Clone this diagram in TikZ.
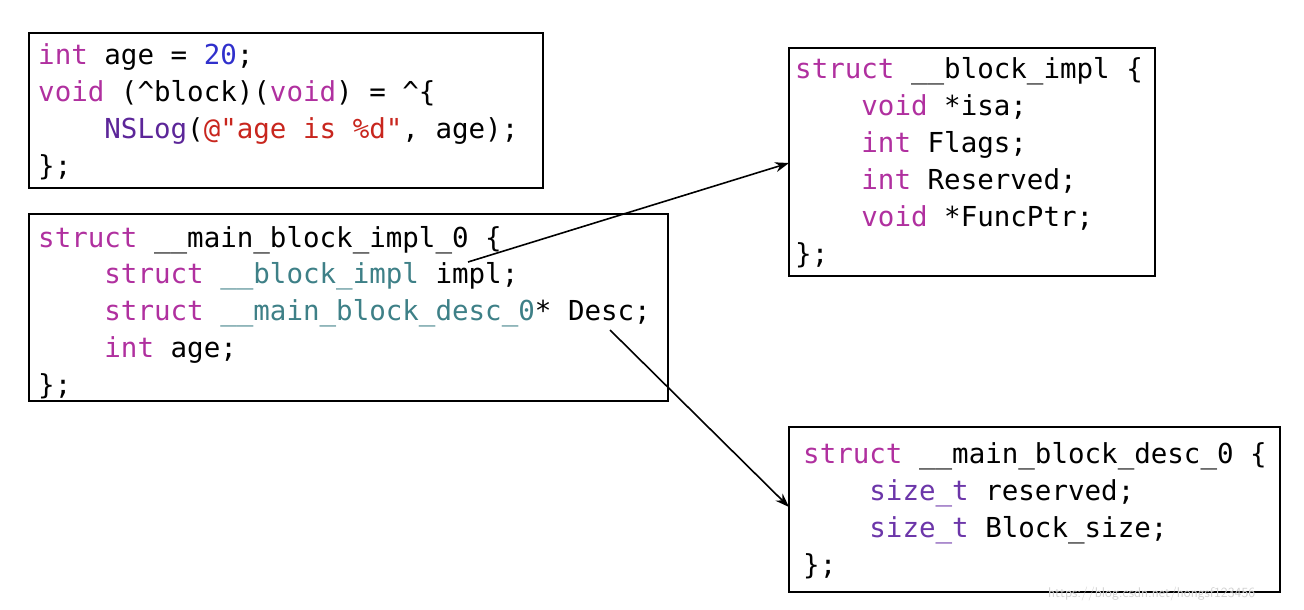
\documentclass[tikz,border=0pt]{standalone}
\usepackage{fontspec}
\setmonofont{DejaVu Sans Mono}
\usetikzlibrary{arrows.meta}
\definecolor{kw}{HTML}{B0309F}
\definecolor{ty}{HTML}{3E8087}
\definecolor{num}{HTML}{3030CC}
\definecolor{fn}{HTML}{5C2699}
\definecolor{str}{HTML}{C8261E}
\definecolor{st}{HTML}{6C36A9}
\begin{document}
\begin{tikzpicture}[x=1pt,y=-1pt,
  box/.style={draw=black,line width=2pt},
  code/.style={anchor=base west,inner sep=0pt,font=\ttfamily\fontsize{27.5}{30}\selectfont},
  arr/.style={-{Stealth[length=14pt,width=10pt]},line width=1.6pt}]
\useasboundingbox (0,0) rectangle (1304,610);
\draw[box] (29,33) rectangle (543,188);
\draw[box] (29,214) rectangle (668,401);
\draw[box] (789,48) rectangle (1155,276);
\draw[box] (789,427) rectangle (1280,592);
% box1
\node[code] (a1) at (38,65) {\textcolor{kw}{int} age = \textcolor{num}{20};};
\node[code] (a2) at (38,101) {\textcolor{kw}{void} (\string^block)(\textcolor{kw}{void}) = \string^\{};
\node[code] (a3) at (38,138) {\ \ \ \ \textcolor{fn}{NSLog}(\textcolor{str}{@"age is \%d"}, age);};
\node[code] (a4) at (38,175) {\};};
% box2
\node[code] (b1) at (38,247) {\textcolor{kw}{struct} \_\_main\_block\_impl\_0 \{};
\node[code] (b2) at (38,283) {\ \ \ \ \textcolor{kw}{struct} \textcolor{ty}{\_\_block\_impl} impl;};
\node[code] (b3) at (38,320) {\ \ \ \ \textcolor{kw}{struct} \textcolor{ty}{\_\_main\_block\_desc\_0}* Desc;};
\node[code] (b4) at (38,357) {\ \ \ \ \textcolor{kw}{int} age;};
\node[code] (b5) at (38,394) {\};};
% box3
\node[code] (c1) at (795,78) {\textcolor{kw}{struct} \_\_block\_impl \{};
\node[code] (c2) at (795,115) {\ \ \ \ \textcolor{kw}{void} *isa;};
\node[code] (c3) at (795,152) {\ \ \ \ \textcolor{kw}{int} Flags;};
\node[code] (c4) at (795,189) {\ \ \ \ \textcolor{kw}{int} Reserved;};
\node[code] (c5) at (795,226) {\ \ \ \ \textcolor{kw}{void} *FuncPtr;};
\node[code] (c6) at (795,263) {\};};
% box4
\node[code] (d1) at (803,463) {\textcolor{kw}{struct} \_\_main\_block\_desc\_0 \{};
\node[code] (d2) at (803,500) {\ \ \ \ \textcolor{st}{size\_t} reserved;};
\node[code] (d3) at (803,537) {\ \ \ \ \textcolor{st}{size\_t} Block\_size;};
\node[code] (d4) at (803,574) {\};};
% arrows
\coordinate (s1) at (468,262);
\coordinate (e1) at (789,163);
\coordinate (s2) at (610,330);
\coordinate (e2) at (789,507);
\draw[arr] (s1) -- (e1);
\draw[arr] (s2) -- (e2);
\node[anchor=base west,inner sep=0pt,text=black!18,font=\sffamily\fontsize{14}{16}\selectfont] (wm) at (1048,597) {https://blog.csdn.net/hongsf123456};
\end{tikzpicture}
\end{document}
